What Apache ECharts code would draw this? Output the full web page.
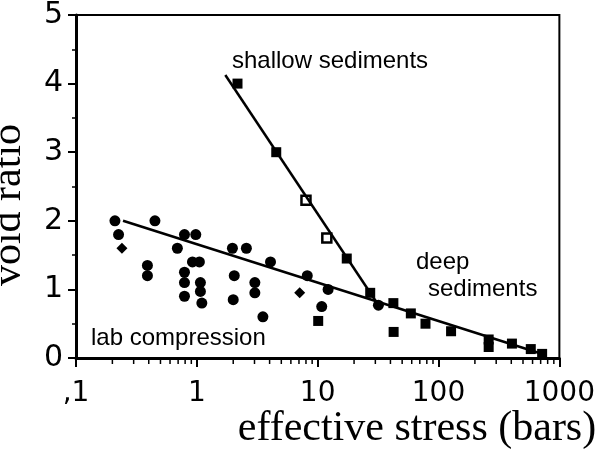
<!DOCTYPE html>
<html>
<head>
<meta charset="utf-8">
<script src="https://cdn.jsdelivr.net/npm/echarts@6/dist/echarts.min.js"></script>
<style>
  html, body { margin: 0; padding: 0; background: #fff; }
  #chart { width: 598px; height: 454px; }
</style>
</head>
<body>
<div id="chart"></div>
<script>
  // effective stress (bars) vs void ratio
  const labCompression = [
    [0.21, 2.0], [0.225, 1.8], [0.45, 2.0], [0.39, 1.35], [0.39, 1.2],
    [0.79, 1.8], [0.69, 1.6], [0.79, 1.25], [0.79, 1.1], [0.79, 0.9],
    [0.98, 1.8], [0.92, 1.4], [1.05, 1.4], [1.07, 1.1], [1.07, 0.97],
    [1.1, 0.8], [1.97, 1.6], [2.57, 1.6], [2.04, 1.2], [2.0, 0.85],
    [4.07, 1.4], [3.02, 1.1], [3.02, 0.95], [3.52, 0.6], [8.2, 1.2],
    [12.2, 1.0], [10.8, 0.75], [31.8, 0.77]
  ];
  const labDiamonds = [[0.24, 1.6], [7.1, 0.95]];
  const shallowFilled = [[2.17, 4.0], [4.54, 3.0], [17.4, 1.45], [27.2, 0.95]];
  const shallowOpen = [[8.0, 2.3], [11.9, 1.75]];
  const deepSediments = [
    [10.1, 0.54], [42.5, 0.38], [42.3, 0.8], [59, 0.65], [78, 0.5],
    [127, 0.39], [260, 0.27], [260, 0.16], [405, 0.21], [580, 0.13], [720, 0.06]
  ];
  const shallowLine = [[1.72, 4.125], [30.2, 0.83]];
  const compressionLine = [[0.245, 2.0], [767, 0.044]];
  const xMinorTicks = [
    0.2, 0.3, 0.4, 0.5, 0.6, 0.7, 0.8, 0.9,
    2, 3, 4, 5, 6, 7, 8, 9,
    20, 30, 40, 50, 60, 70, 80, 90,
    200, 300, 400, 500, 600, 700, 800, 900
  ];

  const chart = echarts.init(document.getElementById('chart'));

  const sans = 'Liberation Sans';
  const black = '#000';

  const option = {
    backgroundColor: '#fff',
    animation: false,
    grid: {
      left: 76,
      right: 34,
      top: 15,
      bottom: 96,
      show: true,
      borderColor: black,
      borderWidth: 2
    },
    xAxis: {
      type: 'log',
      logBase: 10,
      min: 0.1,
      max: 1000,
      axisLine: {lineStyle: {color: black, width: 3}},
      axisTick: {show: true, length: 9, lineStyle: {color: black, width: 2}},
      splitLine: {show: false},
      axisLabel: {
        color: black,
        fontFamily: 'DejaVu Sans',
        fontSize: 28,
        margin: 22,
        formatter: v => (v < 0.5 ? ',1' : String(Math.round(v)))
      }
    },
    yAxis: {
      type: 'value',
      min: 0,
      max: 5,
      interval: 1,
      axisLine: {show: true, lineStyle: {color: black, width: 3}},
      axisTick: {show: true, length: 8, lineStyle: {color: black, width: 2}},
      minorTick: {show: true, splitNumber: 2, length: 4, lineStyle: {color: black, width: 1.5}},
      splitLine: {show: false},
      axisLabel: {
        color: black,
        fontFamily: 'DejaVu Sans',
        fontSize: 30,
        margin: 13
      }
    },
    graphic: [
      {type: 'text', left: 232, top: 49, style: {text: 'shallow sediments', font: '24px ' + sans, fill: black}},
      {type: 'text', left: 416, top: 250, style: {text: 'deep', font: '24px ' + sans, fill: black}},
      {type: 'text', left: 428, top: 277, style: {text: 'sediments', font: '24px ' + sans, fill: black}},
      {type: 'text', left: 91, top: 326, style: {text: 'lab compression', font: '24px ' + sans, fill: black}},
      {
        type: 'text', x: 417, y: 429,
        style: {text: 'effective stress (bars)', font: '42px "Liberation Serif"', fill: black, align: 'center', verticalAlign: 'middle'}
      },
      {
        type: 'text', x: 9, y: 205, rotation: Math.PI / 2,
        style: {text: 'void ratio', font: '42px "Liberation Serif"', fill: black, align: 'center', verticalAlign: 'middle'}
      }
    ],
    series: [
      {
        type: 'custom',
        silent: true,
        clip: false,
        data: xMinorTicks.map(v => [v, 0]),
        renderItem: (params, api) => {
          const p = api.coord([api.value(0), 0]);
          return {
            type: 'line',
            shape: {x1: p[0], y1: p[1] + 1, x2: p[0], y2: p[1] + 6},
            style: {stroke: black, lineWidth: 1.5}
          };
        }
      },
      {
        type: 'line', data: compressionLine, symbol: 'none', silent: true,
        lineStyle: {color: black, width: 2.5}
      },
      {
        type: 'line', data: shallowLine, symbol: 'none', silent: true,
        lineStyle: {color: black, width: 2.5}
      },
      {
        type: 'scatter', name: 'lab compression', data: labCompression,
        symbol: 'circle', symbolSize: 11, itemStyle: {color: black, opacity: 1}
      },
      {
        type: 'scatter', name: 'lab compression', data: labDiamonds,
        symbol: 'diamond', symbolSize: 11, itemStyle: {color: black, opacity: 1}
      },
      {
        type: 'scatter', name: 'deep sediments', data: deepSediments,
        symbol: 'rect', symbolSize: 10, itemStyle: {color: black, opacity: 1}
      },
      {
        type: 'scatter', name: 'shallow sediments', data: shallowFilled,
        symbol: 'rect', symbolSize: 10, itemStyle: {color: black, opacity: 1}
      },
      {
        type: 'scatter', name: 'shallow sediments', data: shallowOpen,
        symbol: 'rect', symbolSize: 9,
        itemStyle: {color: '#fff', borderColor: black, borderWidth: 2.5, opacity: 1}
      }
    ]
  };

  chart.setOption(option);
</script>
</body>
</html>
